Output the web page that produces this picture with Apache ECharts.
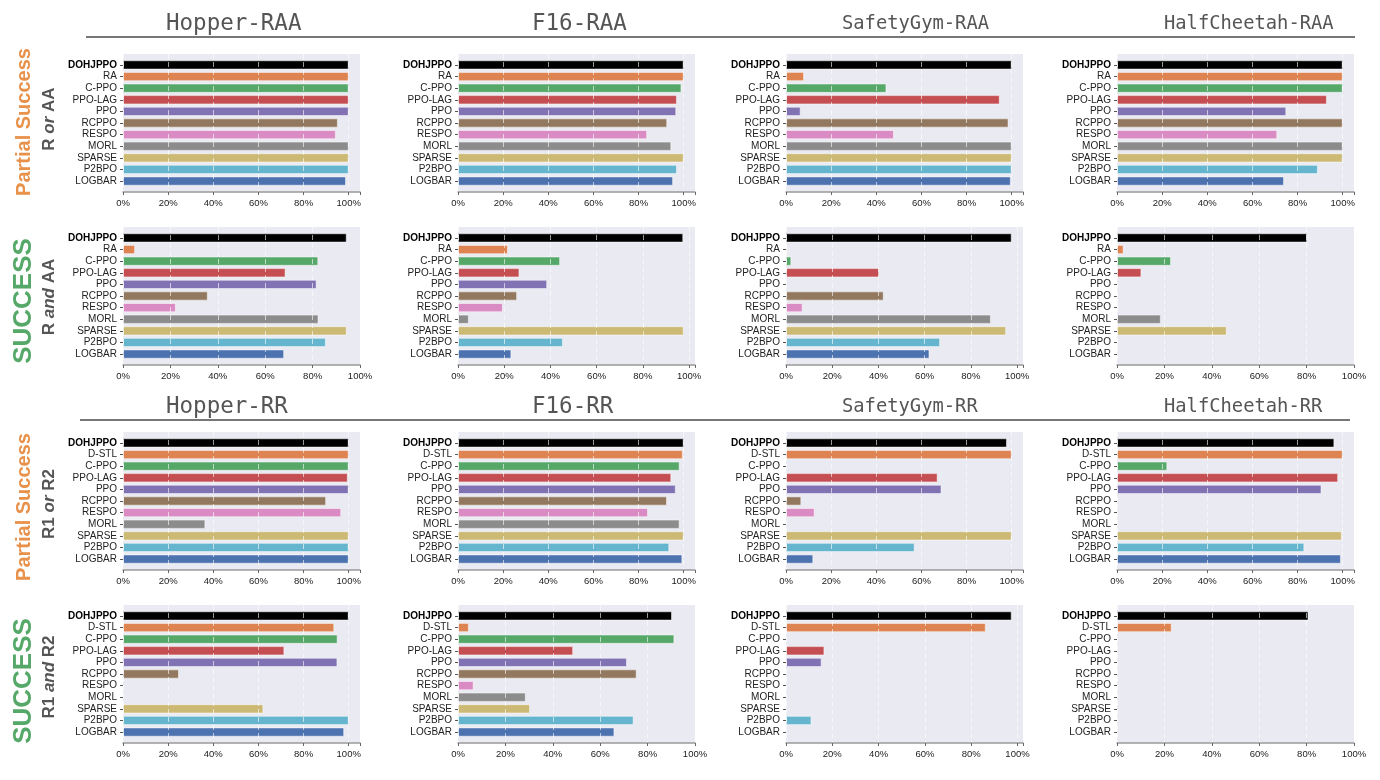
<!DOCTYPE html>
<html>
<head>
<meta charset="utf-8">
<script src="https://cdn.jsdelivr.net/npm/echarts@6/dist/echarts.min.js"></script>
<style>
html, body { margin: 0; padding: 0; background: #fff; }
#chart { width: 1380px; height: 780px; }
</style>
</head>
<body>
<div id="chart"></div>
<script>
// method names (top block uses RA, bottom block uses D-STL)
var methodsRAA = ["DOHJPPO", "RA", "C-PPO", "PPO-LAG", "PPO", "RCPPO", "RESPO", "MORL", "SPARSE", "P2BPO", "LOGBAR"];
var methodsRR = ["DOHJPPO", "D-STL", "C-PPO", "PPO-LAG", "PPO", "RCPPO", "RESPO", "MORL", "SPARSE", "P2BPO", "LOGBAR"];
var envsRAA = ["Hopper-RAA", "F16-RAA", "SafetyGym-RAA", "HalfCheetah-RAA"];
var envsRR = ["Hopper-RR", "F16-RR", "SafetyGym-RR", "HalfCheetah-RR"];

// partial success, R or AA
var partialHopperRAA = [1.0, 1.0, 1.0, 1.0, 1.0, 0.952, 0.943, 1.0, 1.0, 1.0, 0.988];
var partialF16RAA = [1.0, 1.0, 0.99, 0.97, 0.967, 0.927, 0.838, 0.945, 1.0, 0.97, 0.953];
var partialSafetyRAA = [1.0, 0.08, 0.445, 0.947, 0.065, 0.986, 0.478, 1.0, 1.0, 1.0, 0.996];
var partialCheetahRAA = [1.0, 1.0, 1.0, 0.93, 0.75, 1.0, 0.71, 1.0, 1.0, 0.89, 0.74];
// success, R and AA
var successHopperRAA = [0.944, 0.051, 0.824, 0.686, 0.817, 0.358, 0.223, 0.825, 0.944, 0.856, 0.68];
var successF16RAA = [0.975, 0.216, 0.442, 0.266, 0.386, 0.256, 0.194, 0.047, 0.977, 0.454, 0.231];
var successSafetyRAA = [0.977, 0.006, 0.023, 0.403, 0.004, 0.423, 0.072, 0.887, 0.953, 0.667, 0.621];
var successCheetahRAA = [0.802, 0.028, 0.228, 0.103, 0, 0.003, 0.004, 0.185, 0.463, 0.003, 0];
// partial success, R1 or R2
var partialHopperRR = [1.0, 1.0, 1.0, 0.996, 1.0, 0.90, 0.967, 0.365, 1.0, 1.0, 1.0];
var partialF16RR = [1.0, 0.996, 0.982, 0.945, 0.965, 0.926, 0.842, 0.982, 1.0, 0.936, 0.994];
var partialSafetyRR = [0.979, 1.0, 0, 0.672, 0.689, 0.068, 0.127, 0, 1.0, 0.57, 0.121];
var partialCheetahRR = [0.963, 1.0, 0.223, 0.98, 0.906, 0, 0, 0, 0.996, 0.83, 0.992];
// success, R1 and R2
var successHopperRR = [1.0, 0.936, 0.951, 0.715, 0.95, 0.248, 0, 0, 0.622, 1.0, 0.98];
var successF16RR = [0.903, 0.046, 0.913, 0.486, 0.713, 0.754, 0.066, 0.286, 0.304, 0.741, 0.66];
var successSafetyRR = [0.975, 0.863, 0, 0.166, 0.154, 0, 0, 0, 0, 0.11, 0];
var successCheetahRR = [0.808, 0.231, 0, 0, 0, 0, 0, 0, 0, 0, 0];

// one colour per method row
var barColors = ["#000000", "#DD8452", "#55A868", "#C44E52", "#8172B3", "#937860", "#DA8BC3", "#8C8C8C", "#CCB974", "#64B5CD", "#4C72B0"];

var rows = [
  { cats: methodsRAA, sets: [partialHopperRAA, partialF16RAA, partialSafetyRAA, partialCheetahRAA] },
  { cats: methodsRAA, sets: [successHopperRAA, successF16RAA, successSafetyRAA, successCheetahRAA] },
  { cats: methodsRR, sets: [partialHopperRR, partialF16RR, partialSafetyRR, partialCheetahRR] },
  { cats: methodsRR, sets: [successHopperRR, successF16RR, successSafetyRR, successCheetahRR] }
];

var panelLefts = [123, 458, 786, 1117];
var panelTops = [54, 227, 432, 605];
var panelW = 237, panelH = 138;
var unit = panelH / 11.88; // matplotlib-ish margins around 11 bars
var labelFont = "'Liberation Sans Narrow', 'Liberation Sans', Arial";

var grids = [], xAxes = [], yAxes = [], series = [];

rows.forEach(function (row, r) {
  row.sets.forEach(function (vals, c) {
    var xMax = Math.max(1, 1.05 * Math.max.apply(null, vals));
    var left = panelLefts[c], top = panelTops[r];
    var g = grids.length;
    // background grid carrying the x axis
    grids.push({ left: left, top: top, width: panelW, height: panelH, show: true,
      backgroundColor: "#EAEAF2", borderWidth: 0, outerBoundsMode: "none" });
    // bar grid, slightly inset vertically
    grids.push({ left: left, top: top + 0.44 * unit, width: panelW, height: 11 * unit,
      outerBoundsMode: "none" });
    xAxes.push({
      gridIndex: g, type: "value", min: 0, max: xMax, interval: 0.2, z: 5,
      axisLine: { show: true, lineStyle: { color: "#9a9a9a", width: 1.5 } },
      axisTick: { show: true, length: 3, lineStyle: { color: "#666" } },
      axisLabel: {
        margin: 6, fontSize: 9.5, color: "#222", fontFamily: "Liberation Sans, Arial",
        formatter: function (v) { return v > 1.0001 ? "" : Math.round(v * 100) + "%"; }
      },
      splitLine: { show: true, lineStyle: { color: "rgba(255,255,255,0.6)", width: 1, type: [5, 3] } }
    });
    yAxes.push({ gridIndex: g, type: "value", show: false });
    xAxes.push({ gridIndex: g + 1, type: "value", min: 0, max: xMax, show: false });
    yAxes.push({
      gridIndex: g + 1, type: "category", inverse: true, data: row.cats,
      axisLine: { show: false },
      axisTick: { show: true, alignWithLabel: true, interval: 0, length: 3, lineStyle: { color: "#555" } },
      axisLabel: {
        interval: 0, margin: 6, fontSize: 10, color: "#222", fontFamily: labelFont,
        formatter: function (v) { return v === "DOHJPPO" ? "{b|" + v + "}" : v; },
        rich: { b: { fontWeight: "bold", color: "#000", fontSize: 10, fontFamily: labelFont } }
      }
    });
    series.push({
      type: "bar", xAxisIndex: g + 1, yAxisIndex: g + 1, barWidth: "80%",
      data: vals.map(function (v, i) {
        return { value: v, itemStyle: { color: barColors[i],
          borderColor: "rgba(255,255,255,0.5)", borderWidth: v > 0 ? 1 : 0 } };
      })
    });
  });
});

var titleLefts = [166, 532, 842, 1164];
var titleSizes = [22.5, 22.5, 18.8, 18.8];
var graphics = [];
function addTitle(name, i, y) {
  graphics.push({ type: "text", x: titleLefts[i], y: y,
    style: { text: name, font: titleSizes[i] + "px 'DejaVu Sans Mono'", fill: "#555",
      align: "left", verticalAlign: "middle" } });
}
envsRAA.forEach(function (name, i) { addTitle(name, i, 24); });
envsRR.forEach(function (name, i) { addTitle(name, i, 407); });
graphics.push({ type: "line", shape: { x1: 86, y1: 37, x2: 1355, y2: 37 }, style: { stroke: "#777", lineWidth: 2 } });
graphics.push({ type: "line", shape: { x1: 80, y1: 420, x2: 1350, y2: 420 }, style: { stroke: "#777", lineWidth: 2 } });

// rotated row labels
var rowLabels = [
  { main: "Partial Success", mainColor: "#E8914A", mainSize: 20, y: 122, sub: ["R ", "or", " AA"], subY: 119 },
  { main: "SUCCESS", mainColor: "#55A868", mainSize: 26, y: 301, sub: ["R ", "and", " AA"], subY: 297 },
  { main: "Partial Success", mainColor: "#E8914A", mainSize: 20, y: 507, sub: ["R1 ", "or", " R2"], subY: 504 },
  { main: "SUCCESS", mainColor: "#55A868", mainSize: 26, y: 681, sub: ["R1 ", "and", " R2"], subY: 677 }
];
rowLabels.forEach(function (l) {
  graphics.push({ type: "text", x: 24, y: l.y, rotation: Math.PI / 2,
    style: { text: l.main, font: "bold " + l.mainSize + "px 'Liberation Sans'", fill: l.mainColor,
      align: "center", verticalAlign: "middle" } });
  graphics.push({ type: "text", x: 49, y: l.subY, rotation: Math.PI / 2,
    style: {
      text: "{b|" + l.sub[0] + "}{i|" + l.sub[1] + "}{b|" + l.sub[2] + "}",
      rich: {
        b: { font: "bold 17px 'Liberation Sans'", fill: "#555" },
        i: { font: "italic bold 17px 'Liberation Sans'", fill: "#555" }
      },
      align: "center", verticalAlign: "middle"
    } });
});

var chart = echarts.init(document.getElementById("chart"), null, { renderer: "canvas" });
chart.setOption({
  animation: false,
  backgroundColor: "#ffffff",
  grid: grids,
  xAxis: xAxes,
  yAxis: yAxes,
  series: series,
  graphic: graphics
});
</script>
</body>
</html>
